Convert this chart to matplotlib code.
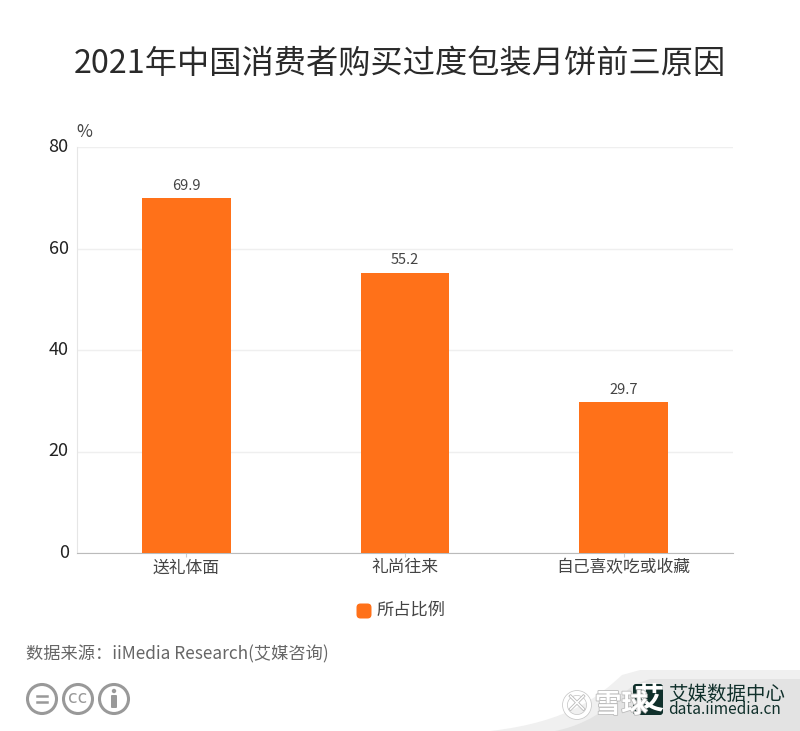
import matplotlib
matplotlib.use('Agg')
import matplotlib.pyplot as plt
import matplotlib.patheffects as pe
from matplotlib.patches import Circle, FancyBboxPatch, PathPatch
from matplotlib.path import Path
from matplotlib.transforms import ScaledTranslation

plt.rcParams['font.family'] = ['Noto Sans CJK SC', 'DejaVu Sans']

title = '2021年中国消费者购买过度包装月饼前三原因'
categories = ['送礼体面', '礼尚往来', '自己喜欢吃或收藏']
values = [69.9, 55.2, 29.7]
y_ticks = [0, 20, 40, 60, 80]
legend_name = '所占比例'
source = '数据来源：iiMedia Research(艾媒咨询)'

ORANGE = '#ff7119'
W, H = 800, 731

fig = plt.figure(figsize=(8, 7.31), dpi=100)

# overlay in pixel coords for the footer stuff
bg = fig.add_axes([0, 0, 1, 1])
bg.set_xlim(0, W)
bg.set_ylim(H, 0)
bg.axis('off')

# grey corner swoosh
codes = [Path.MOVETO, Path.CURVE4, Path.CURVE4, Path.CURVE4, Path.LINETO, Path.LINETO, Path.LINETO, Path.CLOSEPOLY]
verts = [(490, 731), (570, 722), (600, 695), (622, 675), (640, 670), (800, 670), (800, 731), (490, 731)]
bg.add_patch(PathPatch(Path(verts, codes), fc='#f0f0f0', ec='none'))
verts2 = [(555, 731), (600, 722), (620, 695), (635, 684), (650, 679), (800, 679), (800, 731), (555, 731)]
bg.add_patch(PathPatch(Path(verts2, codes), fc='#e3e3e3', ec='none'))

ax = fig.add_axes([77 / W, 1 - 553 / H, 656 / W, 406 / H])
ax.patch.set_alpha(0)
ax.bar(range(len(values)), values, width=0.407, color=ORANGE, zorder=3)
for i, v in enumerate(values):
    ax.annotate(str(v), (i, v), xytext=(0, 4), textcoords='offset points',
                ha='center', va='bottom', fontsize=10.5, color='#444444')
ax.set_xlim(-0.5, 2.5)
ax.set_ylim(0, 80)
ax.set_yticks(y_ticks)
ax.set_xticks(range(len(categories)))
ax.set_xticklabels(categories)
ax.tick_params(axis='y', length=0, labelsize=13, colors='#222222', pad=6)
ax.tick_params(axis='x', length=3, color='#cccccc', labelsize=12.1, labelcolor='#444444', pad=1.5)
# y labels sit a little above their gridlines
shift = ScaledTranslation(0, 2 / 100, fig.dpi_scale_trans)
for lab in ax.get_yticklabels():
    lab.set_transform(lab.get_transform() + shift)
ax.grid(axis='y', color='#efefef', lw=1, zorder=0)
for s in ['top', 'right']:
    ax.spines[s].set_visible(False)
ax.spines['left'].set_color('#e6e6e6')
ax.spines['bottom'].set_color('#bbbbbb')

fig.text(400 / W, 1 - 64 / H, title, ha='center', va='center', fontsize=23.2, color='#2a2a2a')
fig.text(84 / W, 1 - 132 / H, '%', ha='center', va='center', fontsize=12.5, color='#444444')

# legend
bg.add_patch(FancyBboxPatch((356.5, 603.5), 15, 15, boxstyle='round,pad=0,rounding_size=4',
                            fc=ORANGE, ec='none'))
bg.text(377, 610, legend_name, ha='left', va='center', fontsize=12.4, color='#444444')

bg.text(26, 654, source, ha='left', va='center', fontsize=12.4, color='#666666')

# licence badges
GREY = '#999999'
for cx in [42, 78, 114]:
    bg.add_patch(Circle((cx, 699), 14.5, fc='white', ec=GREY, lw=2.2))
bg.plot([37, 47], [696, 696], color=GREY, lw=1.8)
bg.plot([37, 47], [702, 702], color=GREY, lw=1.8)
bg.text(78, 698, 'cc', ha='center', va='center', fontsize=12.5, color=GREY, family='DejaVu Sans')
bg.add_patch(Circle((114, 691), 2.2, fc=GREY, ec='none'))
bg.add_patch(FancyBboxPatch((111, 695), 6, 13, boxstyle='round,pad=0,rounding_size=1', fc=GREY, ec='none'))

# data logo
bg.add_patch(FancyBboxPatch((633, 684), 30, 31, boxstyle='round,pad=0,rounding_size=3', fc='#10302b', ec='none'))
bg.text(648, 699.5, '艾', ha='center', va='center', fontsize=22, color='white', fontweight='bold')
bg.text(668, 694, '艾媒数据中心', ha='left', va='center', fontsize=14, color='#10302b')
bg.text(668, 710, 'data.iimedia.cn', ha='left', va='center', fontsize=11.2, color='#10302b')

# watermark
halo = [pe.withStroke(linewidth=1.2, foreground='#bbbbbb')]
ring = Circle((577, 705), 12, fc='none', ec='white', lw=3)
bg.add_patch(ring)
ring.set_path_effects([pe.withStroke(linewidth=4, foreground='#c4c4c4')])
bg.text(577, 705, '×', ha='center', va='center', fontsize=17, color='white', path_effects=halo)
bg.text(595, 705, '雪球', ha='left', va='center', fontsize=19, color='white', fontweight='bold', path_effects=halo)

fig.savefig('out.png', dpi=100)
